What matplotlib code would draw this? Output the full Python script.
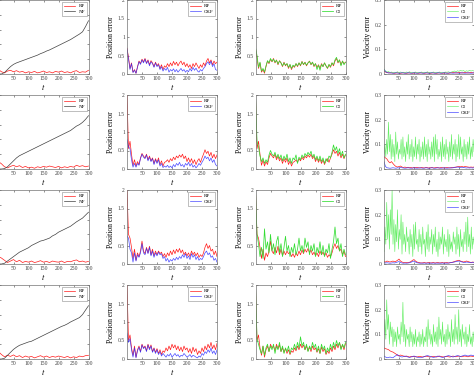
import numpy as np
import matplotlib
matplotlib.use("Agg")
import matplotlib.pyplot as plt

plt.rcParams['font.family'] = ['Liberation Serif', 'DejaVu Serif']
plt.rcParams['mathtext.fontset'] = 'stix'

# ---- data ----
xtick_vals = [50, 100, 150, 200, 250, 300]
pos_ticks = [0, 0.5, 1, 1.5, 2]
pos_ticklabels = ['0', '0.5', '1', '1.5', '2']
vel_ticks = [0, 0.1, 0.2, 0.3]
vel_ticklabels = ['0', '0.1', '0.2', '0.3']

# column 1 : RF vs NF (t = 0..300 step 10)
nf_r1 = [0, 0, 0.2, 0.6, 1.0, 1.3, 1.5, 1.65, 1.8, 1.95, 2.1, 2.25, 2.4, 2.55, 2.75, 2.9,
         3.1, 3.25, 3.45, 3.65, 3.85, 4.05, 4.25, 4.45, 4.65, 4.9, 5.15, 5.4, 5.7, 6.4, 7.2]
nf_r2 = [0, 0, 0.05, 0.3, 0.7, 1.1, 1.5, 1.8, 2.0, 2.2, 2.4, 2.6, 2.8, 3.0, 3.2, 3.4,
         3.6, 3.8, 4.0, 4.2, 4.4, 4.6, 4.8, 5.0, 5.2, 5.5, 5.8, 6.0, 6.3, 6.7, 7.2]
nf_r3 = [0, 0, 0.1, 0.4, 0.7, 1.0, 1.3, 1.6, 1.8, 2.0, 2.2, 2.5, 2.7, 2.9, 3.1, 3.2,
         3.35, 3.5, 3.8, 4.0, 4.3, 4.5, 4.7, 4.9, 5.1, 5.4, 5.7, 5.95, 6.2, 6.6, 7.0]
nf_r4 = [0, 0, 0.1, 0.5, 0.9, 1.3, 1.6, 1.85, 2.0, 2.15, 2.3, 2.4, 2.6, 2.8, 3.0, 3.2,
         3.4, 3.6, 3.8, 4.0, 4.2, 4.4, 4.55, 4.75, 5.0, 5.2, 5.4, 5.6, 6.0, 6.6, 7.2]
rf1_r1 = [0.6, 0.3, 0.15, 0.4, 0.5, 0.3, 0.45, 0.25, 0.35, 0.15, 0.3, 0.2, 0.35, 0.15, 0.25, 0.4,
          0.2, 0.3, 0.15, 0.35, 0.25, 0.4, 0.2, 0.3, 0.15, 0.35, 0.45, 0.2, 0.3, 0.25, 0.5]
rf1_r2 = [1.0, 0.7, 0.3, 0.15, 0.35, 0.5, 0.3, 0.45, 0.2, 0.35, 0.15, 0.25, 0.1, 0.3, 0.2, 0.35,
          0.25, 0.4, 0.3, 0.2, 0.35, 0.15, 0.3, 0.2, 0.35, 0.25, 0.5, 0.35, 0.45, 0.3, 0.4]
rf1_r3 = [1.0, 0.8, 0.5, 0.2, 0.4, 0.6, 0.3, 0.5, 0.2, 0.35, 0.25, 0.4, 0.2, 0.3, 0.45, 0.25,
          0.35, 0.2, 0.4, 0.3, 0.25, 0.4, 0.2, 0.35, 0.3, 0.45, 0.55, 0.3, 0.4, 0.25, 0.35]
rf1_r4 = [1.0, 0.6, 0.3, 0.5, 0.35, 0.55, 0.3, 0.45, 0.2, 0.4, 0.25, 0.35, 0.15, 0.3, 0.45, 0.25,
          0.4, 0.2, 0.35, 0.25, 0.4, 0.3, 0.2, 0.35, 0.15, 0.3, 0.2, 0.4, 0.3, 0.45, 0.5]

# position error RF / CKF / CI (t = 0..300 step 5)
rf_r1 = [0.70, 0.45, 0.15, 0.30, 0.05, 0.12, 0.02, 0.20, 0.35, 0.28, 0.40, 0.33, 0.42, 0.30, 0.38, 0.25,
         0.36, 0.30, 0.20, 0.32, 0.22, 0.28, 0.15, 0.25, 0.12, 0.22, 0.18, 0.28, 0.20, 0.30, 0.22, 0.34,
         0.25, 0.32, 0.22, 0.30, 0.35, 0.25, 0.32, 0.20, 0.28, 0.18, 0.25, 0.15, 0.28, 0.20, 0.30, 0.22,
         0.15, 0.25, 0.18, 0.30, 0.22, 0.35, 0.42, 0.30, 0.38, 0.25, 0.35, 0.28, 0.32]
ckf_r1 = [0.68, 0.40, 0.12, 0.28, 0.04, 0.10, 0.02, 0.18, 0.33, 0.26, 0.38, 0.30, 0.40, 0.28, 0.36, 0.22,
          0.33, 0.28, 0.18, 0.30, 0.20, 0.25, 0.12, 0.20, 0.08, 0.15, 0.10, 0.18, 0.05, 0.12, 0.08, 0.14,
          0.06, 0.12, 0.05, 0.10, 0.15, 0.08, 0.12, 0.05, 0.10, 0.06, 0.15, 0.08, 0.18, 0.10, 0.16, 0.08,
          0.05, 0.12, 0.08, 0.15, 0.20, 0.28, 0.33, 0.25, 0.35, 0.20, 0.28, 0.12, 0.10]
ci_r1 = [0.72, 0.50, 0.18, 0.32, 0.08, 0.15, 0.05, 0.22, 0.36, 0.30, 0.42, 0.34, 0.40, 0.32, 0.37, 0.27,
         0.35, 0.30, 0.22, 0.30, 0.24, 0.28, 0.18, 0.26, 0.15, 0.24, 0.20, 0.28, 0.22, 0.30, 0.24, 0.33,
         0.26, 0.31, 0.24, 0.30, 0.34, 0.26, 0.32, 0.22, 0.28, 0.12, 0.24, 0.10, 0.26, 0.20, 0.30, 0.22,
         0.16, 0.26, 0.20, 0.30, 0.25, 0.38, 0.45, 0.32, 0.38, 0.22, 0.35, 0.25, 0.32]

rf_r2 = [2.0, 0.55, 0.75, 0.40, 0.10, 0.25, 0.08, 0.20, 0.12, 0.30, 0.42, 0.35, 0.30, 0.40, 0.25, 0.35,
         0.22, 0.30, 0.15, 0.28, 0.18, 0.30, 0.12, 0.22, 0.08, 0.18, 0.20, 0.25, 0.18, 0.28, 0.22, 0.32,
         0.25, 0.35, 0.30, 0.38, 0.32, 0.40, 0.28, 0.35, 0.20, 0.30, 0.18, 0.28, 0.15, 0.25, 0.12, 0.22,
         0.28, 0.18, 0.30, 0.40, 0.52, 0.42, 0.48, 0.35, 0.45, 0.30, 0.40, 0.28, 0.38]
ckf_r2 = [0.80, 0.60, 0.55, 0.25, 0.05, 0.15, 0.05, 0.15, 0.10, 0.28, 0.40, 0.32, 0.28, 0.38, 0.22, 0.32,
          0.20, 0.28, 0.12, 0.25, 0.15, 0.25, 0.08, 0.15, 0.04, 0.08, 0.05, 0.10, 0.04, 0.08, 0.03, 0.12,
          0.06, 0.15, 0.10, 0.18, 0.08, 0.12, 0.05, 0.15, 0.10, 0.18, 0.08, 0.15, 0.05, 0.10, 0.03, 0.08,
          0.15, 0.10, 0.18, 0.25, 0.35, 0.28, 0.32, 0.22, 0.30, 0.18, 0.25, 0.12, 0.08]
ci_r2 = [2.0, 0.75, 0.60, 0.35, 0.20, 0.30, 0.15, 0.25, 0.18, 0.38, 0.50, 0.40, 0.35, 0.45, 0.30, 0.40,
         0.28, 0.38, 0.22, 0.35, 0.25, 0.40, 0.20, 0.30, 0.15, 0.30, 0.25, 0.38, 0.15, 0.32, 0.25, 0.38,
         0.30, 0.42, 0.35, 0.45, 0.38, 0.48, 0.32, 0.40, 0.25, 0.35, 0.22, 0.35, 0.20, 0.30, 0.15, 0.28,
         0.20, 0.35, 0.30, 0.45, 0.65, 0.50, 0.60, 0.42, 0.55, 0.35, 0.48, 0.30, 0.40]

rf_r3 = [2.0, 0.80, 0.70, 0.45, 0.15, 0.40, 0.10, 0.30, 0.20, 0.35, 0.62, 0.35, 0.28, 0.45, 0.30, 0.48,
         0.25, 0.40, 0.22, 0.35, 0.25, 0.35, 0.28, 0.32, 0.20, 0.28, 0.18, 0.30, 0.22, 0.35, 0.25, 0.38,
         0.28, 0.40, 0.32, 0.42, 0.30, 0.38, 0.25, 0.32, 0.22, 0.30, 0.20, 0.35, 0.25, 0.32, 0.22, 0.30,
         0.18, 0.25, 0.20, 0.30, 0.45, 0.55, 0.42, 0.50, 0.35, 0.40, 0.25, 0.35, 0.20]
ckf_r3 = [0.75, 0.70, 0.40, 0.30, 0.05, 0.30, 0.08, 0.25, 0.18, 0.30, 0.55, 0.30, 0.25, 0.42, 0.28, 0.45,
          0.22, 0.35, 0.18, 0.30, 0.22, 0.32, 0.25, 0.28, 0.15, 0.20, 0.08, 0.15, 0.05, 0.12, 0.08, 0.15,
          0.10, 0.18, 0.12, 0.20, 0.15, 0.25, 0.18, 0.28, 0.15, 0.22, 0.12, 0.28, 0.18, 0.25, 0.12, 0.20,
          0.10, 0.15, 0.12, 0.20, 0.30, 0.35, 0.25, 0.30, 0.18, 0.22, 0.10, 0.15, 0.05]
ci_r3 = [2.0, 0.80, 0.55, 0.20, 0.45, 0.15, 0.95, 0.40, 0.60, 0.30, 0.80, 0.35, 0.55, 0.25, 0.60, 0.75,
         0.30, 0.55, 0.20, 0.45, 0.75, 0.35, 0.50, 0.20, 0.45, 0.30, 0.55, 0.25, 0.40, 0.70, 0.35, 0.50,
         0.30, 0.70, 0.45, 0.60, 0.25, 0.50, 0.35, 0.55, 0.20, 0.45, 0.30, 0.60, 0.25, 0.50, 0.20, 0.40,
         0.30, 0.55, 0.15, 0.40, 0.60, 1.00, 0.55, 0.70, 0.35, 0.55, 0.20, 0.40, 0.25]

rf_r4 = [2.0, 0.50, 0.65, 0.30, 0.10, 0.35, 0.05, 0.25, 0.35, 0.20, 0.40, 0.30, 0.35, 0.22, 0.40, 0.28,
         0.38, 0.20, 0.30, 0.18, 0.28, 0.15, 0.25, 0.12, 0.22, 0.18, 0.30, 0.22, 0.35, 0.25, 0.40, 0.30,
         0.38, 0.25, 0.35, 0.22, 0.32, 0.20, 0.35, 0.25, 0.30, 0.18, 0.28, 0.15, 0.32, 0.20, 0.28, 0.12,
         0.22, 0.15, 0.30, 0.20, 0.35, 0.25, 0.40, 0.30, 0.45, 0.28, 0.38, 0.25, 0.42]
ckf_r4 = [0.70, 0.45, 0.55, 0.25, 0.05, 0.30, 0.03, 0.22, 0.32, 0.18, 0.38, 0.28, 0.33, 0.20, 0.38, 0.25,
          0.35, 0.18, 0.28, 0.15, 0.25, 0.12, 0.20, 0.08, 0.15, 0.10, 0.05, 0.12, 0.08, 0.15, 0.05, 0.10,
          0.15, 0.08, 0.12, 0.05, 0.10, 0.08, 0.15, 0.10, 0.05, 0.08, 0.12, 0.05, 0.10, 0.08, 0.05, 0.03,
          0.08, 0.05, 0.15, 0.10, 0.20, 0.15, 0.25, 0.18, 0.30, 0.15, 0.22, 0.12, 0.25]
ci_r4 = [2.0, 0.55, 0.40, 0.25, 0.15, 0.35, 0.10, 0.30, 0.40, 0.20, 0.35, 0.25, 0.40, 0.15, 0.35, 0.25,
         0.45, 0.20, 0.35, 0.15, 0.30, 0.20, 0.35, 0.15, 0.30, 0.25, 0.40, 0.25, 0.45, 0.30, 0.60, 0.35,
         0.45, 0.25, 0.40, 0.20, 0.35, 0.25, 0.45, 0.30, 0.40, 0.20, 0.35, 0.15, 0.40, 0.25, 0.35, 0.15,
         0.30, 0.20, 0.40, 0.25, 0.45, 0.30, 0.50, 0.35, 0.45, 0.25, 0.40, 0.30, 0.45]

# velocity error (RF, CKF: step 5 ; CI: step 3 for rows 2-4)
vrf_r1 = [0.012, 0.008, 0.006, 0.005, 0.004, 0.005, 0.004, 0.003, 0.004, 0.005, 0.004, 0.003, 0.004,
          0.005, 0.004, 0.003, 0.004, 0.005, 0.004, 0.003, 0.004, 0.005, 0.004, 0.003, 0.004, 0.005,
          0.004, 0.003, 0.004, 0.005, 0.004, 0.003, 0.004, 0.005, 0.004, 0.003, 0.004, 0.005, 0.004,
          0.003, 0.004, 0.005, 0.004, 0.003, 0.004, 0.005, 0.006, 0.005, 0.004, 0.005, 0.006, 0.005,
          0.004, 0.005, 0.006, 0.005, 0.004, 0.005, 0.006, 0.005, 0.004]
vckf_r1 = [0.018, 0.010, 0.006, 0.004, 0.005, 0.004, 0.003, 0.004, 0.005, 0.004, 0.003, 0.004, 0.005,
           0.004, 0.003, 0.004, 0.005, 0.004, 0.003, 0.004, 0.005, 0.004, 0.003, 0.004, 0.005, 0.004,
           0.003, 0.004, 0.005, 0.004, 0.003, 0.004, 0.005, 0.004, 0.003, 0.004, 0.005, 0.004, 0.003,
           0.004, 0.005, 0.004, 0.003, 0.004, 0.005, 0.004, 0.003, 0.004, 0.005, 0.004, 0.003, 0.004,
           0.005, 0.004, 0.003, 0.004, 0.005, 0.004, 0.003, 0.004, 0.005]
vci_r1 = [0.020, 0.012, 0.008, 0.010, 0.006, 0.008, 0.005, 0.007, 0.006, 0.009, 0.005, 0.008, 0.006,
          0.007, 0.005, 0.008, 0.006, 0.009, 0.005, 0.007, 0.006, 0.008, 0.005, 0.007, 0.006, 0.008,
          0.005, 0.007, 0.006, 0.009, 0.005, 0.007, 0.006, 0.008, 0.005, 0.007, 0.006, 0.008, 0.005,
          0.007, 0.006, 0.008, 0.007, 0.009, 0.006, 0.008, 0.010, 0.012, 0.009, 0.013, 0.011, 0.015,
          0.012, 0.014, 0.010, 0.013, 0.011, 0.015, 0.012, 0.014, 0.012]

vrf_r2 = [0.050, 0.045, 0.040, 0.030, 0.025, 0.030, 0.022, 0.015, 0.010, 0.008, 0.010, 0.012, 0.008,
          0.006, 0.008, 0.005, 0.007, 0.005, 0.006, 0.004, 0.006, 0.005, 0.007, 0.005, 0.004, 0.006,
          0.005, 0.004, 0.006, 0.005, 0.004, 0.005, 0.006, 0.004, 0.005, 0.006, 0.005, 0.004, 0.006,
          0.005, 0.004, 0.005, 0.006, 0.005, 0.004, 0.006, 0.005, 0.007, 0.008, 0.009, 0.010, 0.009,
          0.010, 0.008, 0.010, 0.009, 0.008, 0.007, 0.008, 0.007, 0.008]
vckf_r2 = [0.030, 0.010, 0.005, 0.004, 0.003, 0.004, 0.005, 0.004, 0.003, 0.005, 0.004, 0.006, 0.005,
           0.004, 0.003, 0.004, 0.005, 0.004, 0.003, 0.004, 0.005, 0.004, 0.003, 0.004, 0.005, 0.004,
           0.003, 0.004, 0.005, 0.004, 0.003, 0.004, 0.005, 0.004, 0.003, 0.004, 0.005, 0.004, 0.003,
           0.004, 0.005, 0.004, 0.003, 0.004, 0.005, 0.004, 0.005, 0.006, 0.007, 0.008, 0.007, 0.006,
           0.005, 0.006, 0.005, 0.004, 0.005, 0.004, 0.005, 0.004, 0.005]
vci_r2 = [0.06, 0.10, 0.05, 0.12, 0.06, 0.19, 0.07, 0.14, 0.04, 0.12,
          0.05, 0.10, 0.03, 0.15, 0.06, 0.11, 0.04, 0.08, 0.06, 0.12,
          0.04, 0.13, 0.05, 0.09, 0.03, 0.11, 0.06, 0.14, 0.04, 0.10,
          0.05, 0.12, 0.03, 0.09, 0.05, 0.13, 0.04, 0.10, 0.06, 0.12,
          0.03, 0.09, 0.05, 0.11, 0.04, 0.13, 0.05, 0.10, 0.03, 0.12,
          0.06, 0.09, 0.04, 0.11, 0.05, 0.13, 0.03, 0.14, 0.06, 0.12,
          0.04, 0.08, 0.05, 0.11, 0.03, 0.13, 0.05, 0.10, 0.04, 0.12,
          0.06, 0.09, 0.03, 0.11, 0.05, 0.14, 0.04, 0.10, 0.06, 0.12,
          0.03, 0.10, 0.05, 0.14, 0.04, 0.13, 0.06, 0.09, 0.03, 0.12,
          0.05, 0.10, 0.04, 0.11, 0.06, 0.13, 0.04, 0.09, 0.05, 0.12,
          0.07]

vrf_r3 = [0.010, 0.008, 0.012, 0.010, 0.008, 0.010, 0.012, 0.009, 0.011, 0.015, 0.020, 0.012, 0.008,
          0.006, 0.005, 0.006, 0.005, 0.007, 0.010, 0.015, 0.018, 0.012, 0.008, 0.006, 0.005, 0.004,
          0.005, 0.006, 0.004, 0.005, 0.006, 0.004, 0.005, 0.006, 0.004, 0.005, 0.006, 0.004, 0.005,
          0.006, 0.004, 0.005, 0.006, 0.004, 0.005, 0.006, 0.008, 0.010, 0.012, 0.014, 0.015, 0.012,
          0.010, 0.008, 0.010, 0.012, 0.010, 0.008, 0.006, 0.008, 0.007]
vckf_r3 = [0.006, 0.004, 0.005, 0.004, 0.003, 0.004, 0.005, 0.004, 0.006, 0.008, 0.010, 0.006, 0.004,
           0.003, 0.004, 0.003, 0.004, 0.005, 0.007, 0.010, 0.012, 0.008, 0.005, 0.004, 0.003, 0.004,
           0.003, 0.004, 0.003, 0.004, 0.003, 0.004, 0.003, 0.004, 0.003, 0.004, 0.003, 0.004, 0.003,
           0.004, 0.003, 0.004, 0.003, 0.004, 0.005, 0.006, 0.007, 0.008, 0.010, 0.011, 0.012, 0.010,
           0.008, 0.007, 0.006, 0.008, 0.007, 0.006, 0.005, 0.006, 0.005]
vci_r3 = [0.05, 0.15, 0.08, 0.25, 0.10, 0.20, 0.06, 0.22, 0.12, 0.30,
          0.08, 0.18, 0.05, 0.16, 0.09, 0.22, 0.06, 0.14, 0.10, 0.20,
          0.04, 0.17, 0.08, 0.12, 0.05, 0.15, 0.09, 0.11, 0.04, 0.14,
          0.07, 0.12, 0.03, 0.16, 0.06, 0.17, 0.08, 0.10, 0.05, 0.14,
          0.07, 0.12, 0.04, 0.15, 0.08, 0.10, 0.03, 0.13, 0.06, 0.16,
          0.05, 0.11, 0.08, 0.14, 0.04, 0.12, 0.07, 0.15, 0.05, 0.10,
          0.03, 0.13, 0.06, 0.11, 0.08, 0.15, 0.04, 0.12, 0.07, 0.10,
          0.05, 0.14, 0.03, 0.12, 0.06, 0.09, 0.05, 0.13, 0.08, 0.11,
          0.04, 0.15, 0.06, 0.12, 0.03, 0.14, 0.07, 0.10, 0.05, 0.13,
          0.08, 0.17, 0.05, 0.19, 0.07, 0.12, 0.04, 0.15, 0.06, 0.11,
          0.08]

vrf_r4 = [0.045, 0.042, 0.040, 0.038, 0.033, 0.030, 0.028, 0.024, 0.020, 0.015, 0.013, 0.016, 0.014,
          0.012, 0.010, 0.012, 0.010, 0.008, 0.010, 0.009, 0.011, 0.009, 0.008, 0.010, 0.011, 0.009,
          0.008, 0.010, 0.012, 0.010, 0.009, 0.008, 0.010, 0.011, 0.009, 0.008, 0.010, 0.012, 0.010,
          0.009, 0.008, 0.010, 0.011, 0.009, 0.008, 0.010, 0.012, 0.010, 0.009, 0.011, 0.012, 0.010,
          0.009, 0.011, 0.012, 0.010, 0.009, 0.011, 0.012, 0.010, 0.011]
vckf_r4 = [0.012, 0.008, 0.005, 0.006, 0.008, 0.006, 0.005, 0.010, 0.014, 0.018, 0.012, 0.010, 0.008,
           0.010, 0.012, 0.010, 0.008, 0.006, 0.008, 0.010, 0.012, 0.010, 0.008, 0.006, 0.005, 0.006,
           0.008, 0.010, 0.012, 0.014, 0.012, 0.010, 0.008, 0.006, 0.008, 0.010, 0.012, 0.010, 0.008,
           0.006, 0.008, 0.010, 0.012, 0.014, 0.012, 0.010, 0.008, 0.010, 0.012, 0.014, 0.012, 0.010,
           0.012, 0.014, 0.016, 0.014, 0.012, 0.014, 0.016, 0.014, 0.015]
vci_r4 = [0.10, 0.16, 0.08, 0.24, 0.12, 0.18, 0.06, 0.15, 0.09, 0.13,
          0.05, 0.12, 0.07, 0.11, 0.05, 0.13, 0.08, 0.10, 0.06, 0.15,
          0.09, 0.23, 0.07, 0.14, 0.05, 0.12, 0.08, 0.10, 0.05, 0.13,
          0.07, 0.11, 0.05, 0.10, 0.06, 0.12, 0.05, 0.09, 0.07, 0.11,
          0.05, 0.10, 0.06, 0.12, 0.05, 0.09, 0.07, 0.13, 0.05, 0.16,
          0.08, 0.12, 0.06, 0.10, 0.05, 0.14, 0.07, 0.11, 0.06, 0.13,
          0.05, 0.17, 0.08, 0.12, 0.06, 0.15, 0.07, 0.10, 0.05, 0.12,
          0.06, 0.14, 0.08, 0.11, 0.05, 0.16, 0.07, 0.12, 0.06, 0.18,
          0.08, 0.13, 0.06, 0.20, 0.07, 0.12, 0.05, 0.14, 0.08, 0.11,
          0.06, 0.13, 0.05, 0.10, 0.07, 0.14, 0.06, 0.09, 0.05, 0.11,
          0.07]

rows = [
    dict(nf=nf_r1, rf1=rf1_r1, rf=rf_r1, ckf=ckf_r1, ci=ci_r1, vrf=vrf_r1, vckf=vckf_r1, vci=vci_r1),
    dict(nf=nf_r2, rf1=rf1_r2, rf=rf_r2, ckf=ckf_r2, ci=ci_r2, vrf=vrf_r2, vckf=vckf_r2, vci=vci_r2),
    dict(nf=nf_r3, rf1=rf1_r3, rf=rf_r3, ckf=ckf_r3, ci=ci_r3, vrf=vrf_r3, vckf=vckf_r3, vci=vci_r3),
    dict(nf=nf_r4, rf1=rf1_r4, rf=rf_r4, ckf=ckf_r4, ci=ci_r4, vrf=vrf_r4, vckf=vckf_r4, vci=vci_r4),
]

RED = '#ff1a1a'
BLUE = '#2a2aff'
GREEN = '#33dd33'
LGREEN = '#66ee66'
BLACK = '#404040'

W, H = 474, 384
fig = plt.figure(figsize=(W / 100, H / 100), dpi=100)

col_left = [-1.5, 127, 255.5, 384]
row_top = [0, 95, 190, 285]
aw, ah = 90, 74


def tt(arr):
    # time axis for a series sampled evenly over 0..300
    return np.linspace(0, 300, len(arr))


def style(ax, ylim, yt=None, ytl=None):
    ax.set_xlim(0, 300)
    ax.set_ylim(*ylim)
    ax.set_xticks(xtick_vals)
    ax.set_xticklabels([str(v) for v in xtick_vals])
    if yt is not None:
        ax.set_yticks(yt)
        ax.set_yticklabels(ytl)
    ax.tick_params(direction='in', length=1.5, width=0.4, labelsize=4, pad=1.5,
                   top=True, right=True, colors='0.25')
    for s in ax.spines.values():
        s.set_linewidth(0.5)
        s.set_color('0.45')
    ax.set_xlabel('$t$', fontsize=6, labelpad=1)


def leg(ax):
    lg = ax.legend(loc='upper right', fontsize=3.6, frameon=True, fancybox=False,
                   edgecolor='0.55', framealpha=1, borderpad=0.4, labelspacing=0.25,
                   handlelength=2.2, handletextpad=0.6, borderaxespad=0.35)
    lg.get_frame().set_linewidth(0.4)


for r, d in enumerate(rows):
    axes = []
    for c in range(4):
        left = col_left[c] / W
        bottom = (H - row_top[r] - ah) / H
        axes.append(fig.add_axes([left, bottom, aw / W, ah / H]))
    a1, a2, a3, a4 = axes

    a1.plot(tt(d['rf1']), d['rf1'], color=RED, lw=0.5, label='RF')
    a1.plot(tt(d['nf']), d['nf'], color=BLACK, lw=0.5, label='NF')
    style(a1, (0, 10))
    a1.tick_params(labelleft=False)   # the first column is cropped on the left
    leg(a1)

    a2.plot(tt(d['rf']), d['rf'], color=RED, lw=0.5, label='RF')
    a2.plot(tt(d['ckf']), d['ckf'], color=BLUE, lw=0.5, alpha=0.85, label='CKF')
    style(a2, (0, 2), pos_ticks, pos_ticklabels)
    a2.set_ylabel('Position error', fontsize=5.5, labelpad=2)
    leg(a2)

    a3.plot(tt(d['rf']), d['rf'], color=RED, lw=0.5, label='RF')
    a3.plot(tt(d['ci']), d['ci'], color=GREEN, lw=0.55, label='CI')
    style(a3, (0, 2), pos_ticks, pos_ticklabels)
    a3.set_ylabel('Position error', fontsize=5.5, labelpad=2)
    leg(a3)

    a4.plot(tt(d['vrf']), d['vrf'], color=RED, lw=0.5, label='RF')
    a4.plot(tt(d['vci']), d['vci'], color=LGREEN, lw=0.45, label='CI')
    a4.plot(tt(d['vckf']), d['vckf'], color=BLUE, lw=0.5, alpha=0.85, label='CKF')
    style(a4, (0, 0.3), vel_ticks, vel_ticklabels)
    a4.set_ylabel('Velocity error', fontsize=5.5, labelpad=2)
    leg(a4)

fig.savefig('out.png', dpi=100)
